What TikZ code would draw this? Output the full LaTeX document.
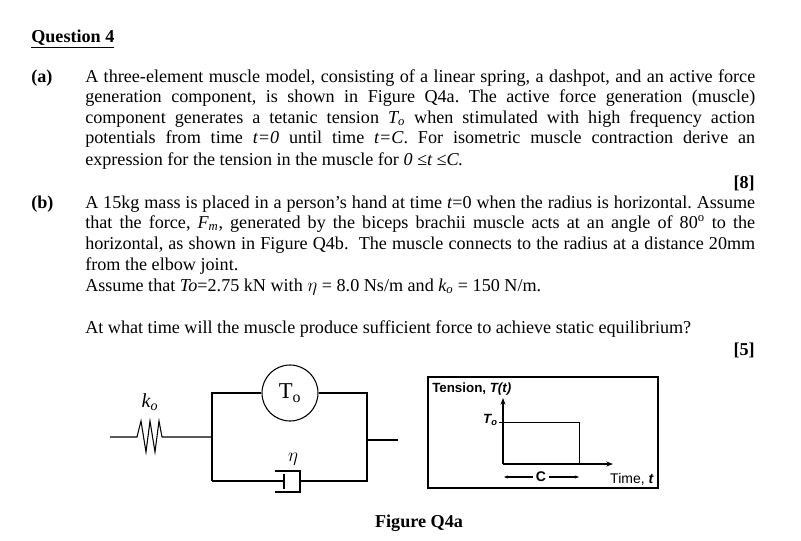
\documentclass[tikz,border=0pt]{standalone}
\usepackage{fontspec}
\setmainfont{Liberation Serif}
\setsansfont{Liberation Sans}
\usetikzlibrary{arrows.meta}
\begin{document}
\frenchspacing
\begin{tikzpicture}[x=0.75pt,y=-0.75pt,
  txt/.style={anchor=base west,inner sep=0pt,font=\fontsize{13.6}{15.5}\selectfont},
  bl/.style={anchor=base west,inner sep=0pt,font=\bfseries\fontsize{13.6}{15}\selectfont},
  wire/.style={line width=0.8pt},
  gl/.style={inner sep=0pt,font=\sffamily\bfseries\fontsize{10}{12}\selectfont}]
\useasboundingbox (0,0) rectangle (801,540);
\newcommand{\jl}[1]{\makebox[502.5pt][s]{#1}}
\node[bl] (q) at (31,42) {\underline{Question 4}};
\node[bl] (la) at (31,82) {(a)};
\node[txt] (a1) at (85,82) {\jl{A three-element muscle model, consisting of a linear spring, a dashpot, and an active force}};
\node[txt] (a2) at (85,102) {\jl{generation component, is shown in Figure Q4a. The active force generation (muscle)}};
\node[txt] (a3) at (85,123) {\jl{component generates a tetanic tension \textit{T\textsubscript{o}} when stimulated with high frequency action}};
\node[txt] (a4) at (85,143) {\jl{potentials from time \textit{t=0} until time \textit{t=C}. For isometric muscle contraction derive an}};
\node[txt] (a5) at (85,165) {expression for the tension in the muscle for \textit{0 ≤t ≤C.}};
\node[bl,anchor=base east] (m8) at (755,188) {[8]};
\node[bl] (lb) at (31,208) {(b)};
\node[txt] (b1) at (85,208) {\jl{A 15kg mass is placed in a person’s hand at time \textit{t}=0 when the radius is horizontal. Assume}};
\node[txt] (b2) at (85,228) {\jl{that the force, \textit{F\textsubscript{m}}, generated by the biceps brachii muscle acts at an angle of 80\textsuperscript{o} to the}};
\node[txt] (b3) at (85,249) {\jl{horizontal, as shown in Figure Q4b.\ \ The muscle connects to the radius at a distance 20mm}};
\node[txt] (b4) at (85,270) {from the elbow joint.};
\node[txt] (b5) at (85,291) {Assume that \textit{To}=2.75 kN with $\eta$ = 8.0 Ns/m and \textit{k\textsubscript{o}} = 150 N/m.};
\node[txt] (b6) at (85,333) {At what time will the muscle produce sufficient force to achieve static equilibrium?};
\node[bl,anchor=base east] (m5) at (755,355) {[5]};
% circuit
\coordinate (s0) at (110,437);
\coordinate (s1) at (137,437);
\coordinate (s2) at (162,437);
\coordinate (jl) at (212,437);
\draw[wire] (s0) -- (s1) -- (141,421) -- (146,452) -- (150,421) -- (155,452) -- (159,421) -- (s2) -- (jl);
\node[font=\itshape\fontsize{15}{17}\selectfont] (ko) at (150,402) {k\textsubscript{o}};
\node[draw,circle,wire,minimum size=56*0.75pt,inner sep=0pt,font=\fontsize{17}{19}\selectfont] (T) at (290,393) {T\textsubscript{o}};
\draw[wire] (212,481) -- (212,393) -- (T.west);
\draw[wire] (T.east) -- (367,393) -- (367,481) -- (300,481);
\draw[wire] (367,440) -- (398,440);
\draw[wire] (275,471) -- (300,471) -- (300,492) -- (275,492);
\draw[wire] (284,474) -- (284,489);
\draw[wire] (212,481) -- (284,481);
\node[font=\fontsize{14}{16}\selectfont] (eta) at (293,459) {$\eta$};
% graph
\node[draw,wire,minimum width=230*0.75pt,minimum height=111*0.75pt,inner sep=0pt] (box) at (543,432.5) {};
\node[gl,anchor=west] (tl) at (432,389) {Tension, \textit{T(t)}};
\coordinate (O) at (503,464);
\draw[line width=1pt,-{Stealth[length=5pt]}] (O) -- (503,398);
\draw[line width=1pt,-{Stealth[length=5pt]}] (O) -- (613,464);
\draw[line width=0.6pt] (499,422) -- (579,422) -- (579,464);
\node[gl,anchor=east] (To) at (498,420) {\textit{T\textsubscript{o}}};
\node[gl,font=\sffamily\bfseries\fontsize{10.5}{12}\selectfont] (C) at (541,477) {C};
\draw[line width=0.8pt,-{Stealth[length=3pt]}] (C.west) ++(-2pt,0) -- (504,477);
\draw[line width=0.8pt,-{Stealth[length=3pt]}] (C.east) ++(2pt,0) -- (579,477);
\node[gl,font=\sffamily\fontsize{10.5}{12}\selectfont] (tt) at (632,479) {Time, \textit{\textbf{t}}};
\node[font=\bfseries\fontsize{13.6}{15}\selectfont] (fig) at (419,523) {Figure Q4a};
\end{tikzpicture}
\end{document}
